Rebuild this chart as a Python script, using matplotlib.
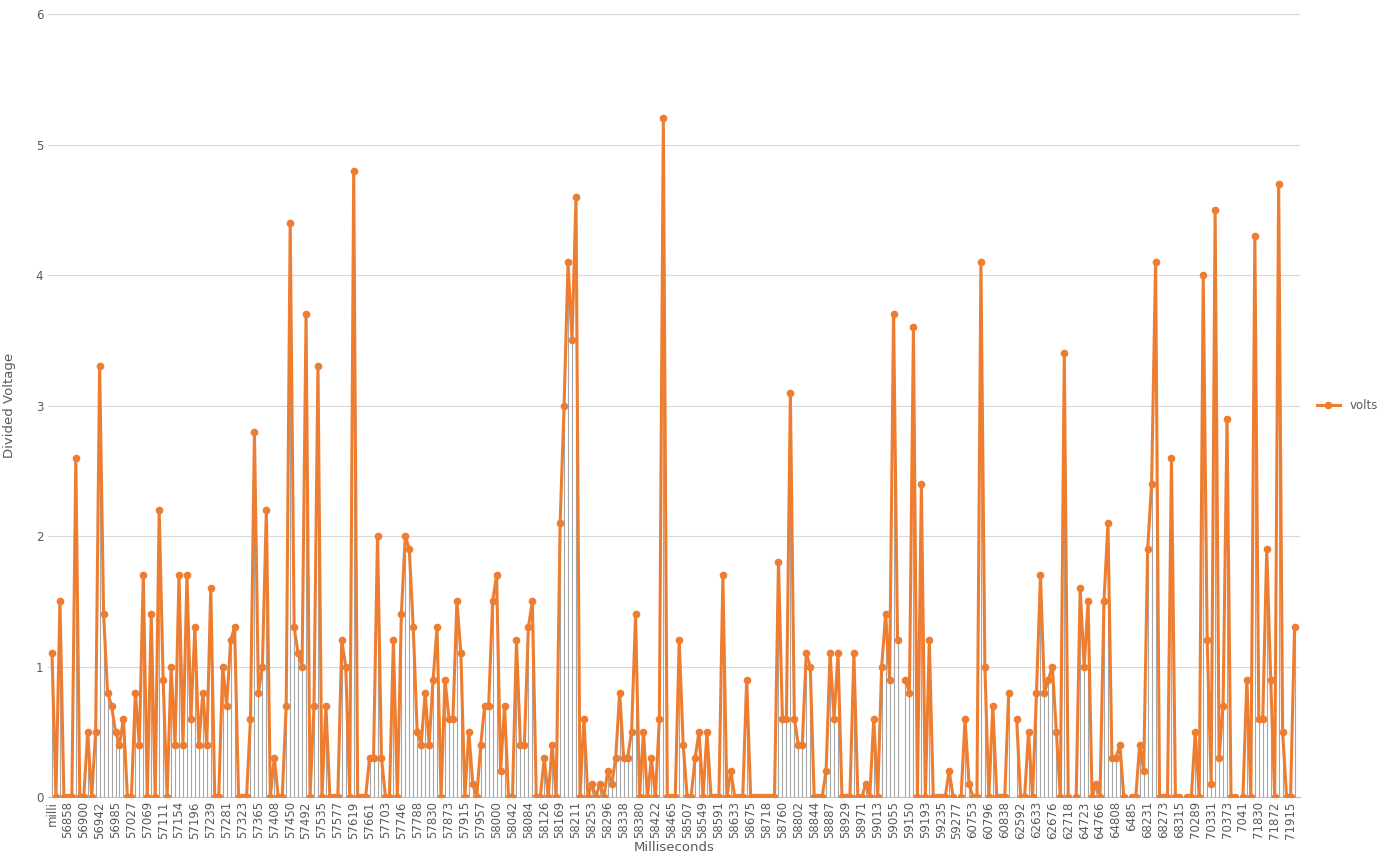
import numpy as np
import matplotlib
matplotlib.use("Agg")
import matplotlib.pyplot as plt

nan = np.nan
volts = [
    1.1, 0, 1.5, 0, 0, 0, 2.6, 0, 0, 0.5, 0, 0.5, 3.3, 1.4, 0.8, 0.7, 0.5, 0.4, 0.6, 0,
    0, 0.8, 0.4, 1.7, 0, 1.4, 0, 2.2, 0.9, 0, 1.0, 0.4, 1.7, 0.4, 1.7, 0.6, 1.3, 0.4, 0.8, 0.4,
    1.6, 0, 0, 1.0, 0.7, 1.2, 1.3, 0, 0, 0, 0.6, 2.8, 0.8, 1.0, 2.2, 0, 0.3, 0, 0, 0.7,
    4.4, 1.3, 1.1, 1.0, 3.7, 0, 0.7, 3.3, 0, 0.7, 0, 0, 0, 1.2, 1.0, 0, 4.8, 0, 0, 0,
    0.3, 0.3, 2.0, 0.3, 0, 0, 1.2, 0, 1.4, 2.0, 1.9, 1.3, 0.5, 0.4, 0.8, 0.4, 0.9, 1.3, 0, 0.9,
    0.6, 0.6, 1.5, 1.1, 0, 0.5, 0.1, 0, 0.4, 0.7, 0.7, 1.5, 1.7, 0.2, 0.7, 0, 0, 1.2, 0.4, 0.4,
    1.3, 1.5, 0, 0, 0.3, 0, 0.4, 0, 2.1, 3.0, 4.1, 3.5, 4.6, 0, 0.6, 0, 0.1, 0, 0.1, 0,
    0.2, 0.1, 0.3, 0.8, 0.3, 0.3, 0.5, 1.4, 0, 0.5, 0, 0.3, 0, 0.6, 5.2, 0, 0, 0, 1.2, 0.4,
    0, 0, 0.3, 0.5, 0, 0.5, 0, 0, 0, 1.7, 0, 0.2, 0, 0, 0, 0.9, 0, 0, 0, 0,
    0, 0, 0, 1.8, 0.6, 0.6, 3.1, 0.6, 0.4, 0.4, 1.1, 1.0, 0, 0, 0, 0.2, 1.1, 0.6, 1.1, 0,
    0, 0, 1.1, 0, 0, 0.1, 0, 0.6, 0, 1.0, 1.4, 0.9, 3.7, 1.2, nan, 0.9, 0.8, 3.6, 0, 2.4,
    0, 1.2, 0, 0, 0, 0, 0.2, 0, nan, 0, 0.6, 0.1, 0, 0, 4.1, 1.0, 0, 0.7, 0, 0,
    0, 0.8, nan, 0.6, 0, 0, 0.5, 0, 0.8, 1.7, 0.8, 0.9, 1.0, 0.5, 0, 3.4, 0, nan, 0, 1.6,
    1.0, 1.5, 0, 0.1, 0, 1.5, 2.1, 0.3, 0.3, 0.4, 0, nan, 0, 0, 0.4, 0.2, 1.9, 2.4, 4.1, 0,
    0, 0, 2.6, 0, 0, nan, 0, 0, 0.5, 0, 4.0, 1.2, 0.1, 4.5, 0.3, 0.7, 2.9, 0, 0, nan,
    0, 0.9, 0, 4.3, 0.6, 0.6, 1.9, 0.9, 0, 4.7, 0.5, 0, 0, 1.3,
]
tick_labels = [
    "milli", "56858", "56900", "56942", "56985", "57027", "57069", "57111", "57154", "57196",
    "57239", "57281", "57323", "57365", "57408", "57450", "57492", "57535", "57577", "57619",
    "57661", "57703", "57746", "57788", "57830", "57873", "57915", "57957", "58000", "58042",
    "58084", "58126", "58169", "58211", "58253", "58296", "58338", "58380", "58422", "58465",
    "58507", "58549", "58591", "58633", "58675", "58718", "58760", "58802", "58844", "58887",
    "58929", "58971", "59013", "59055", "59150", "59193", "59235", "59277", "60753", "60796",
    "60838", "62592", "62633", "62676", "62718", "64723", "64766", "64808", "6485", "68231",
    "68273", "68315", "70289", "70331", "70373", "7041", "71830", "71872", "71915",
]

y = np.array(volts, dtype=float)
x = np.arange(len(y))

fig = plt.figure(figsize=(13.8, 8.66), dpi=100)
ax = fig.add_axes([0.0348, 0.0797, 0.907, 0.904])

ok = ~np.isnan(y)
ax.vlines(x[ok], 0, y[ok], color="#a6a6a6", lw=0.8, zorder=2)
ax.plot(x, y, color="#ED7D31", lw=2.2, marker="o", ms=4.5, label="volts", zorder=3)

ax.set_xlim(-1, len(y) + 0.3)
ax.set_ylim(0, 6)
ax.set_yticks(range(7))
ax.set_xticks(np.arange(0, len(tick_labels) * 4, 4))
ax.set_xticklabels(tick_labels, rotation=90)
ax.tick_params(axis="both", colors="#595959", labelsize=8.5, length=0)
ax.tick_params(axis="x", pad=3)
ax.grid(axis="y", color="#d9d9d9", lw=0.8)
ax.set_axisbelow(True)
for s in ["top", "right", "left"]:
    ax.spines[s].set_visible(False)
ax.spines["bottom"].set_color("#bfbfbf")
ax.set_xlabel("Milliseconds", color="#595959", fontsize=9.5, labelpad=2)
ax.set_ylabel("Divided Voltage", color="#595959", fontsize=9.5, labelpad=14)
ax.legend(loc="center left", bbox_to_anchor=(1.005, 0.5), frameon=False,
          fontsize=8.5, labelcolor="#595959")

fig.savefig("out.png")
